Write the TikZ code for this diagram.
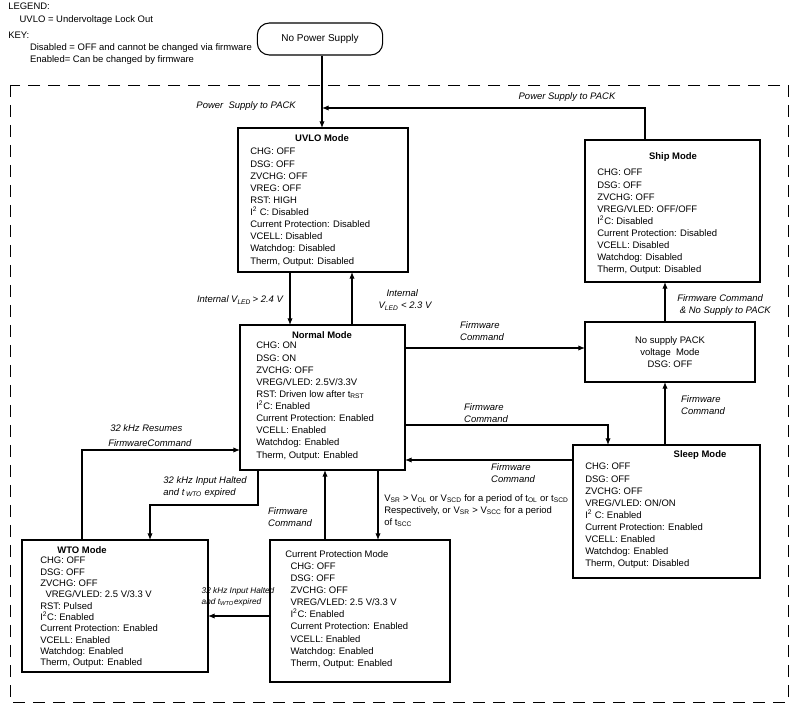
\documentclass[tikz,border=0pt]{standalone}
\usepackage{fontspec}
\setmainfont{Liberation Sans}
\usetikzlibrary{arrows.meta}
\begin{document}
\begin{tikzpicture}[x=0.75pt,y=-0.75pt,
  every node/.style={font=\fontsize{7.1}{9.1}\selectfont,inner sep=0pt},
  box/.style={draw,thick,fill=white},
  ttl/.style={font=\fontsize{7.1}{9.1}\selectfont\bfseries},
  lst/.style={anchor=north west,align=left},
  lbl/.style={font=\fontsize{7.1}{9.1}\selectfont\itshape,align=left},
  arr/.style={thick,-{Latex[length=5pt,width=4pt]}}]
\useasboundingbox (0,0) rectangle (800,712);
\node[lst] (legend) at (8,3) {LEGEND:\\\hspace{1.2em}UVLO = Undervoltage Lock Out\\[3pt]KEY:\\\hspace{2.3em}Disabled = OFF and cannot be changed via firmware\\\hspace{2.3em}Enabled= Can be changed by firmware};
\draw[dash pattern=on 9pt off 6pt] (10,85) rectangle (788,702);
\node[draw,thick,rounded corners=9pt,minimum width=94pt,minimum height=24pt,font=\fontsize{7.5}{9}\selectfont] (nps) at (320,39) {No Power Supply};
% boxes
\draw[box] (238,128) rectangle (408,272); \coordinate (uvloT) at (322,128);
\node[ttl] (t1) at (322,138) {UVLO Mode};
\node[lst] (c1) at (250,148) {CHG: OFF\\DSG: OFF\\ZVCHG: OFF\\VREG: OFF\\RST: HIGH\\I\textsuperscript{2} C: Disabled\\Current Protection: Disabled\\VCELL: Disabled\\Watchdog: Disabled\\Therm, Output: Disabled};
\draw[box] (585,140) rectangle (760,282);
\node[ttl] (t2) at (673,157) {Ship Mode};
\node[lst] (c2) at (597,169) {CHG: OFF\\DSG: OFF\\ZVCHG: OFF\\VREG/VLED: OFF/OFF\\I\textsuperscript{2}C: Disabled\\Current Protection: Disabled\\VCELL: Disabled\\Watchdog: Disabled\\Therm, Output: Disabled};
\draw[box] (240,325) rectangle (405,470);
\node[ttl] (t3) at (322,335) {Normal Mode};
\node[lst] (c3) at (256,342) {CHG: ON\\DSG: ON\\ZVCHG: OFF\\VREG/VLED: 2.5V/3.3V\\RST: Driven low after t\textsubscript{RST}\\I\textsuperscript{2}C: Enabled\\Current Protection: Enabled\\VCELL: Enabled\\Watchdog: Enabled\\Therm, Output: Enabled};
\draw[box] (585,322) rectangle (755,382);
\node[align=center] (ns) at (670,352) {No supply PACK\\voltage\ \ Mode\\DSG: OFF};
\draw[box] (573,445) rectangle (760,578);
\node[ttl] (t4) at (700,455) {Sleep Mode};
\node[lst] (c4) at (585,463) {CHG: OFF\\DSG: OFF\\ZVCHG: OFF\\VREG/VLED: ON/ON\\I\textsuperscript{2} C: Enabled\\Current Protection: Enabled\\VCELL: Enabled\\Watchdog: Enabled\\Therm, Output: Disabled};
\draw[box] (22,540) rectangle (208,672);
\node[ttl] (t5) at (82,550) {WTO Mode};
\node[lst,font=\fontsize{7.1}{8.5}\selectfont] (c5) at (40,557) {CHG: OFF\\DSG: OFF\\ZVCHG: OFF\\\ \ VREG/VLED: 2.5 V/3.3 V\\RST: Pulsed\\I\textsuperscript{2}C: Enabled\\Current Protection: Enabled\\VCELL: Enabled\\Watchdog: Enabled\\Therm, Output: Enabled};
\draw[box] (270,540) rectangle (450,682);
\node[lst] (c6) at (285,550) {Current Protection Mode\\\ \ CHG: OFF\\\ \ DSG: OFF\\\ \ ZVCHG: OFF\\\ \ VREG/VLED: 2.5 V/3.3 V\\\ \ I\textsuperscript{2}C: Enabled\\\ \ Current Protection: Enabled\\\ \ VCELL: Enabled\\\ \ Watchdog: Enabled\\\ \ Therm, Output: Enabled};
% arrows
\draw[arr] (nps.south -| uvloT) -- (uvloT);
\draw[arr] (645,140) -- (645,108) -- (322,108);
\node[lbl,anchor=east] (l1) at (296,106) {Power\ \ Supply to PACK};
\node[lbl] (l2) at (567,97) {Power Supply to PACK};
\draw[arr] (290,272) -- (290,325);
\draw[arr] (352,325) -- (352,272);
\node[lbl] (l3) at (240,300) {Internal V\textsubscript{LED}\,> 2.4 V};
\node[lbl] (l4) at (405,300) {\ \ \ Internal\\V\textsubscript{LED} < 2.3 V};
\draw[arr] (405,348) -- (585,348);
\node[lbl] (l5) at (482,331) {Firmware\\Command};
\draw[arr] (665,322) -- (665,282);
\node[lbl,anchor=west] (l6) at (677,305) {Firmware Command\\\ \& No Supply to PACK};
\draw[arr] (405,425) -- (608,425) -- (608,445);
\node[lbl] (l7) at (486,413) {Firmware\\Command};
\draw[arr] (573,460) -- (405,460);
\node[lbl] (l8) at (513,473) {Firmware\\Command};
\draw[arr] (665,445) -- (665,382);
\node[lbl] (l9) at (703,405) {Firmware\\Command};
\draw[arr] (82,540) -- (82,450) -- (240,450);
\node[lbl,anchor=west] (l10) at (110,428) {32 kHz Resumes};
\node[lbl,anchor=west] (l11) at (108,443) {FirmwareCommand};
\draw[arr] (258,470) -- (258,505) -- (150,505) -- (150,540);
\node[lbl,align=left] (l12) at (205,487) {32 kHz Input Halted\\and t\,\textsubscript{WTO} expired};
\draw[arr] (325,540) -- (325,470);
\node[lbl] (l13) at (290,517) {Firmware\\Command};
\draw[arr] (378,470) -- (378,540);
\node[lst] (l14) at (384,494) {V\textsubscript{SR} > V\textsubscript{OL} or V\textsubscript{SCD} for a period of t\textsubscript{OL} or t\textsubscript{SCD}\\Respectively, or V\textsubscript{SR} > V\textsubscript{SCC} for a period\\of t\textsubscript{SCC}};
\draw[arr] (270,616) -- (208,616);
\node[lbl,font=\fontsize{6.2}{8}\selectfont\itshape] (l15) at (238,597) {32 kHz Input Halted\\and t\textsubscript{WTO}expired};
\end{tikzpicture}
\end{document}
